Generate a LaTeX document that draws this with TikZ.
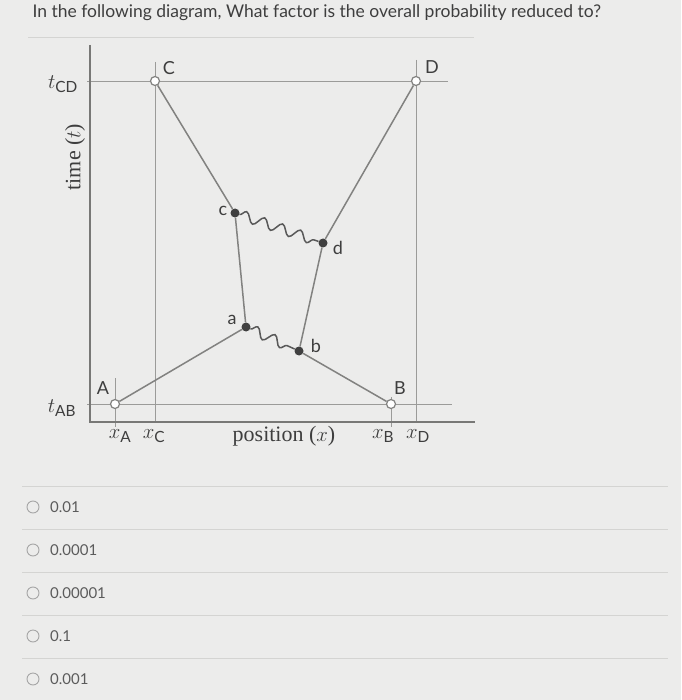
\documentclass[tikz,border=0pt]{standalone}
\usepackage{fontspec}
\setmainfont{Lato}
\newfontfamily\serif{Liberation Serif}
\usetikzlibrary{decorations.pathmorphing}

\definecolor{paper}{HTML}{ECECEB}
\definecolor{ink}{HTML}{3E3E3E}
\definecolor{rulegray}{HTML}{D4D4D2}
\definecolor{wline}{HTML}{828280}
\definecolor{axisgray}{HTML}{787876}

\begin{document}
\begin{tikzpicture}[x=1pt, y=-1pt,
  worldline/.style={draw=wline, line width=1.5pt},
  guide/.style={draw=wline!80, line width=0.8pt},
  photon/.style={draw=black!65, line width=1.5pt, decorate,
    decoration={snake, amplitude=5pt, segment length=19pt}},
  vertex/.style={circle, fill=black!75, inner sep=0pt, minimum size=9pt},
  endpt/.style={circle, draw=wline, fill=white, line width=1.2pt, inner sep=0pt, minimum size=9pt},
  pt/.style={text=ink, font=\fontsize{18}{20}\selectfont},
  tick/.style={text=ink, font=\fontsize{22}{24}\selectfont\serif},
  choice/.style={circle, draw=black!35, line width=0.9pt, inner sep=0pt, minimum size=12pt},
  answer/.style={text=ink!85, anchor=west, inner sep=0pt, font=\fontsize{15}{17}\selectfont}]

  \fill[paper] (0,0) rectangle (681,700);
  \useasboundingbox (0,0) rectangle (681,700);

  \node[anchor=west, text=ink, font=\fontsize{17.5}{19}\selectfont] (title) at (29,13)
    {In the following diagram, What factor is the overall probability reduced to?};
  \draw[rulegray, line width=0.8pt] (28,37) -- (474,37);

  % axes and guide lines
  \draw[guide] (87,81) -- (448,81);
  \draw[guide] (87,404) -- (452,404);
  \draw[guide] (155,62) -- (155,422);
  \draw[guide] (416,60) -- (416,422);
  \draw[guide] (115,378) -- (115,427);
  \draw[guide] (391,397) -- (391,427);
  \draw[draw=axisgray, line width=1.5pt] (90,45) -- (90,422) -- (475,422);

  \node[tick] at (63,84) {$t_{\mathrm{CD}}$};
  \node[tick] at (62,408) {$t_{\mathrm{AB}}$};
  \node[tick, rotate=90] at (75,157) {time ($t$)};
  \node[tick] at (120,436) {$x_{\mathrm{A}}$};
  \node[tick] at (154,436) {$x_{\mathrm{C}}$};
  \node[tick] at (284,436) {position ($x$)};
  \node[tick] at (383,436) {$x_{\mathrm{B}}$};
  \node[tick] at (418,436) {$x_{\mathrm{D}}$};

  % end points and vertices
  \node[endpt] (A) at (115,404) {};
  \node[endpt] (B) at (391,404) {};
  \node[endpt] (C) at (155,81) {};
  \node[endpt] (D) at (416,81) {};
  \node[vertex] (a) at (246,327) {};
  \node[vertex] (b) at (299,351) {};
  \node[vertex] (c) at (235,213) {};
  \node[vertex] (d) at (323,243) {};

  \draw[worldline] (A) -- (a) -- (c) -- (C);
  \draw[worldline] (B) -- (b) -- (d) -- (D);
  \draw[photon] (c) -- (d);
  \draw[photon] (a) -- (b);

  \node[pt] at (103,388) {A};
  \node[pt] at (400,388) {B};
  \node[pt] at (169,68) {C};
  \node[pt] at (432,67) {D};
  \node[pt] at (232,320) {a};
  \node[pt] at (316,346) {b};
  \node[pt] at (223,211) {c};
  \node[pt] at (338,248) {d};

  % answer choices
  \foreach \val [count=\i] in {0.01, 0.0001, 0.00001, 0.1, 0.001} {
    \draw[rulegray, line width=0.8pt] (22,443+43*\i) -- (668,443+43*\i);
    \node[choice] (opt\i) at (33,464+43*\i) {};
    \node[answer] (val\i) at (50,464+43*\i) {\val};
  }
\end{tikzpicture}
\end{document}
